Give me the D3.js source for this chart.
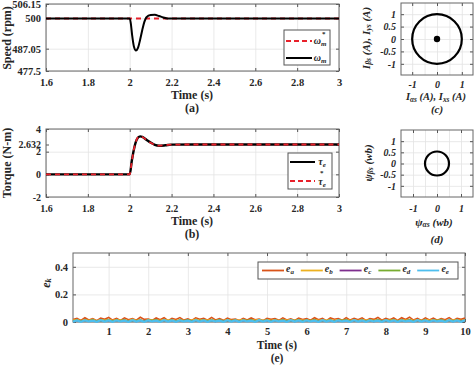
<!DOCTYPE html>
<html>
<head>
<meta charset="utf-8">
<script src="https://cdn.jsdelivr.net/npm/d3@7"></script>
<style>
  body { margin: 0; background: #fff; }
  svg, svg text { font-family: "Liberation Serif", "Times New Roman", serif; }
  .tick text { font-weight: bold; fill: #262626; }
  .grid line { stroke: #e3e3e3; stroke-width: 0.8; }
  .grid path { display: none; }
  .ax path { display: none; }
  .ax line { stroke: #555; }
</style>
</head>
<body>
<svg id="chart" width="474" height="366"></svg>
<script>
// (a) speed response
const speedT   = [1.6, 2.0, 2.005, 2.012, 2.02, 2.03, 2.04, 2.05, 2.06, 2.07, 2.08, 2.1, 2.12, 2.14, 2.16, 2.18, 2.2, 3.0];
const speedW   = [500, 500, 498, 492.5, 488, 486.3, 487.5, 491, 495, 498.5, 500.5, 501.4, 501.5, 501, 500.4, 500, 499.9, 500];
const speedRef = [500, 500];
const speedRefT = [1.6, 3.0];
const speedTicks = [477.5, 487.05, 500, 506.15];

// (b) torque response
const torqT = [1.6, 2.0, 2.01, 2.02, 2.03, 2.04, 2.05, 2.06, 2.08, 2.1, 2.12, 2.14, 2.17, 2.2, 2.3, 3.0];
const torqE = [0, 0, 1.2, 2.2, 2.9, 3.25, 3.35, 3.3, 3.05, 2.8, 2.6, 2.52, 2.56, 2.62, 2.632, 2.632];
const torqRef = [0, 0, 1.15, 2.2, 2.92, 3.27, 3.35, 3.29, 3.04, 2.79, 2.6, 2.53, 2.57, 2.62, 2.632, 2.632];
const torqTicks = [-2, 0, 2, 2.632, 4];
const timeTicks = [1.6, 1.8, 2, 2.2, 2.4, 2.6, 2.8, 3];

// (c) current trajectories (radius, centre dot)
const currRadius = 1.0;
const currDot = [0, 0];
// (d) flux trajectory
const fluxRadius = 0.5;
const planeTicks = [-1, -0.5, 0, 0.5, 1];

// (e) estimation errors, sampled every 0.1 s from 0.1 s to 10 s
const errA = [0.018,0.026,0.012,0.031,0.015,0.024,0.010,0.028,0.020,0.033,
  0.014,0.027,0.011,0.030,0.017,0.025,0.013,0.034,0.019,0.022,
  0.012,0.029,0.016,0.031,0.010,0.026,0.018,0.032,0.014,0.023,
  0.011,0.030,0.020,0.027,0.013,0.033,0.015,0.024,0.012,0.028,
  0.017,0.022,0.011,0.026,0.014,0.029,0.016,0.021,0.010,0.027,
  0.019,0.025,0.012,0.030,0.015,0.023,0.011,0.028,0.018,0.024,
  0.013,0.031,0.016,0.026,0.010,0.029,0.020,0.025,0.012,0.032,
  0.014,0.027,0.017,0.030,0.011,0.024,0.019,0.033,0.013,0.026,
  0.016,0.029,0.012,0.031,0.018,0.035,0.014,0.027,0.011,0.030,
  0.015,0.028,0.013,0.025,0.017,0.032,0.012,0.026,0.019,0.029];
const errB = [0.012,0.018,0.009,0.016,0.011,0.019,0.008,0.015,0.013,0.017,
  0.010,0.018,0.012,0.014,0.009,0.019,0.011,0.016,0.008,0.017,
  0.013,0.015,0.010,0.018,0.012,0.016,0.009,0.017,0.011,0.014,
  0.013,0.019,0.010,0.015,0.012,0.018,0.009,0.016,0.011,0.017,
  0.010,0.015,0.013,0.018,0.009,0.016,0.012,0.017,0.010,0.018,
  0.011,0.016,0.009,0.018,0.012,0.015,0.010,0.017,0.013,0.016,
  0.009,0.018,0.011,0.015,0.012,0.017,0.010,0.016,0.013,0.018,
  0.011,0.015,0.009,0.017,0.012,0.016,0.010,0.018,0.011,0.015,
  0.013,0.017,0.009,0.016,0.012,0.018,0.010,0.015,0.011,0.017,
  0.012,0.016,0.010,0.018,0.009,0.015,0.013,0.017,0.011,0.016];
const errC = [0.006,0.011,0.005,0.010,0.007,0.012,0.004,0.009,0.008,0.011,
  0.005,0.010,0.007,0.012,0.006,0.009,0.004,0.011,0.008,0.010,
  0.006,0.012,0.005,0.009,0.007,0.011,0.004,0.010,0.008,0.012,
  0.005,0.009,0.007,0.011,0.006,0.010,0.004,0.012,0.008,0.009,
  0.006,0.011,0.005,0.010,0.007,0.012,0.004,0.009,0.008,0.011,
  0.005,0.010,0.006,0.012,0.007,0.009,0.004,0.011,0.008,0.010,
  0.006,0.012,0.005,0.009,0.007,0.011,0.004,0.010,0.008,0.012,
  0.005,0.009,0.007,0.011,0.006,0.010,0.004,0.012,0.008,0.009,
  0.006,0.011,0.005,0.010,0.007,0.012,0.004,0.009,0.008,0.011,
  0.005,0.010,0.006,0.012,0.007,0.009,0.004,0.011,0.008,0.010];
const errD = [0.008,0.013,0.006,0.012,0.009,0.014,0.005,0.011,0.010,0.013,
  0.007,0.012,0.009,0.014,0.006,0.011,0.008,0.013,0.005,0.012,
  0.010,0.014,0.007,0.011,0.009,0.013,0.006,0.012,0.008,0.014,
  0.005,0.011,0.010,0.013,0.007,0.012,0.009,0.014,0.006,0.011,
  0.008,0.013,0.005,0.012,0.010,0.014,0.007,0.011,0.009,0.013,
  0.006,0.012,0.008,0.014,0.005,0.011,0.010,0.013,0.007,0.012,
  0.009,0.014,0.006,0.011,0.008,0.013,0.005,0.012,0.010,0.014,
  0.007,0.011,0.009,0.013,0.006,0.012,0.008,0.014,0.005,0.011,
  0.010,0.013,0.007,0.012,0.009,0.014,0.006,0.011,0.008,0.013,
  0.005,0.012,0.010,0.014,0.007,0.011,0.009,0.013,0.006,0.012];
const errE = [0.003,0.011,0.001,0.012,0.004,0.010,0.002,0.013,0.003,0.011,
  0.001,0.012,0.004,0.010,0.002,0.013,0.003,0.011,0.001,0.012,
  0.004,0.010,0.002,0.013,0.003,0.011,0.001,0.012,0.004,0.010,
  0.002,0.013,0.003,0.011,0.001,0.012,0.004,0.010,0.002,0.013,
  0.003,0.011,0.001,0.012,0.004,0.010,0.002,0.013,0.003,0.011,
  0.001,0.012,0.004,0.010,0.002,0.013,0.003,0.011,0.001,0.012,
  0.004,0.010,0.002,0.013,0.003,0.011,0.001,0.012,0.004,0.010,
  0.002,0.013,0.003,0.011,0.001,0.012,0.004,0.010,0.002,0.013,
  0.003,0.011,0.001,0.012,0.004,0.010,0.002,0.013,0.003,0.011,
  0.001,0.012,0.004,0.010,0.002,0.013,0.003,0.011,0.001,0.012];
const errNames  = ["a", "b", "c", "d", "e"];
const errColors = ["#d95319", "#edb120", "#7e2f8e", "#77ac30", "#4dbeee"];
const errTicksX = [1, 2, 3, 4, 5, 6, 7, 8, 9, 10];
const errTicksY = [0, 0.2, 0.4];

const SERIF = "'Liberation Serif', 'Times New Roman', serif";
const svg = d3.select("#chart");
svg.append("rect").attr("width", 474).attr("height", 366).attr("fill", "#fff");

// draws the box, grid and ticks of one panel, returns its group
function frame(x, y, xt, yt, opt) {
  const g = svg.append("g");
  const [x0, x1] = x.range(), [y1, y0] = y.range();
  const w = x1 - x0, h = y1 - y0;
  const gx = opt.gridX || xt, gy = opt.gridY || yt;
  g.append("g").attr("class", "grid").attr("transform", `translate(0,${y1})`)
    .call(d3.axisBottom(x).tickValues(gx).tickSize(-h).tickFormat(""));
  g.append("g").attr("class", "grid").attr("transform", `translate(${x0},0)`)
    .call(d3.axisLeft(y).tickValues(gy).tickSize(-w).tickFormat(""));
  const fs = opt.fs || 10.5;
  const bx = g.append("g").attr("class", "ax").attr("transform", `translate(0,${y1})`)
    .call(d3.axisBottom(x).tickValues(xt).tickSize(-3).tickPadding(opt.padX || 8).tickFormat(opt.fmtX || d3.format("")));
  const ly = g.append("g").attr("class", "ax").attr("transform", `translate(${x0},0)`)
    .call(d3.axisLeft(y).tickValues(yt).tickSize(-3).tickPadding(opt.padY || 6).tickFormat(opt.fmtY || d3.format("")));
  [bx, ly].forEach(a => a.attr("font-family", SERIF).attr("font-size", fs)
    .selectAll("text").attr("font-family", SERIF).style("font-style", opt.italic ? "italic" : null));
  g.append("g").attr("class", "ax").attr("transform", `translate(0,${y0})`)
    .call(d3.axisTop(x).tickValues(xt).tickSize(-3).tickFormat(""));
  g.append("g").attr("class", "ax").attr("transform", `translate(${x1},0)`)
    .call(d3.axisRight(y).tickValues(yt).tickSize(-3).tickFormat(""));
  g.append("rect").attr("x", x0).attr("y", y0).attr("width", w).attr("height", h)
    .attr("fill", "none").attr("stroke", "#666").attr("stroke-width", 1);
  return g;
}

function label(txt, x, y, size, rot) {
  const t = svg.append("text").attr("text-anchor", "middle").attr("dominant-baseline", "middle")
    .attr("font-family", SERIF).attr("font-weight", "bold").attr("font-size", size).attr("fill", "#262626")
    .attr("transform", `translate(${x},${y})` + (rot ? " rotate(-90)" : ""));
  txt.forEach(p => {
    const s = t.append("tspan").text(p.t);
    if (p.sub) s.attr("baseline-shift", "-30%").attr("font-size", size * 0.7);
    if (p.i) s.attr("font-style", "italic");
  });
  return t;
}

function star(x, y) {
  svg.append("text").attr("x", x).attr("y", y).attr("font-size", 7).attr("font-family", SERIF)
    .attr("font-weight", "bold").attr("fill", "#262626").text("*");
}

// ---------- (a) speed ----------
const xa = d3.scaleLinear().domain([1.6, 3]).range([46, 339]);
const ya = d3.scaleLinear().domain([477.5, 506.15]).range([71, 4]);
const ga = frame(xa, ya, timeTicks, speedTicks, { fmtY: d => d, padY: 5 });
const lineA = d3.line().x(d => xa(d[0])).y(d => ya(d[1])).curve(d3.curveMonotoneX);
ga.append("path").attr("d", lineA(d3.zip(speedRefT, speedRef)))
  .attr("fill", "none").attr("stroke", "#e8202a").attr("stroke-width", 2).attr("stroke-dasharray", "5,4");
ga.append("path").attr("d", lineA(d3.zip(speedT, speedW)))
  .attr("fill", "none").attr("stroke", "#000").attr("stroke-width", 2);
// legend (a)
ga.append("rect").attr("x", 284).attr("y", 30).attr("width", 46).attr("height", 35)
  .attr("fill", "#fff").attr("stroke", "#555");
ga.append("line").attr("x1", 286).attr("x2", 312).attr("y1", 41).attr("y2", 41)
  .attr("stroke", "#e8202a").attr("stroke-width", 2).attr("stroke-dasharray", "5,3");
ga.append("line").attr("x1", 286).attr("x2", 312).attr("y1", 58).attr("y2", 58)
  .attr("stroke", "#000").attr("stroke-width", 2);
label([{ t: "ω", i: 1 }, { t: "m", sub: 1, i: 1 }], 320, 42, 10);
star(322, 36);
label([{ t: "ω", i: 1 }, { t: "m", sub: 1, i: 1 }], 320, 59, 10);
label([{ t: "Speed (rpm)" }], 8, 38, 12, true);
label([{ t: "Time (s)" }], 192, 96, 12);
label([{ t: "(a)" }], 192, 109, 12);

// ---------- (b) torque ----------
const xb = d3.scaleLinear().domain([1.6, 3]).range([46, 339]);
const yb = d3.scaleLinear().domain([-2, 4]).range([197, 129]);
const gb = frame(xb, yb, timeTicks, torqTicks, { fmtY: d => d, gridY: [-2, 0, 2, 4], padY: 5, fs: 10 });
const lineB = d3.line().x(d => xb(d[0])).y(d => yb(d[1])).curve(d3.curveMonotoneX);
gb.append("path").attr("d", lineB(d3.zip(torqT, torqE)))
  .attr("fill", "none").attr("stroke", "#000").attr("stroke-width", 2.4);
gb.append("path").attr("d", lineB(d3.zip(torqT, torqRef)))
  .attr("fill", "none").attr("stroke", "#e8202a").attr("stroke-width", 1.8).attr("stroke-dasharray", "5,4");
gb.append("rect").attr("x", 288).attr("y", 153).attr("width", 44).attr("height", 36)
  .attr("fill", "#fff").attr("stroke", "#555");
gb.append("line").attr("x1", 290).attr("x2", 315).attr("y1", 162).attr("y2", 162)
  .attr("stroke", "#000").attr("stroke-width", 2);
gb.append("line").attr("x1", 290).attr("x2", 315).attr("y1", 181).attr("y2", 181)
  .attr("stroke", "#e8202a").attr("stroke-width", 2).attr("stroke-dasharray", "5,3");
label([{ t: "τ", i: 1 }, { t: "e", sub: 1, i: 1 }], 322, 163, 10);
label([{ t: "τ", i: 1 }, { t: "e", sub: 1, i: 1 }], 322, 183, 10);
star(320, 175);
label([{ t: "Torque (N-m)" }], 8, 163, 12, true);
label([{ t: "Time (s)" }], 192, 222, 12);
label([{ t: "(b)" }], 192, 235, 12);

// ---------- (c) currents ----------
const xc = d3.scaleLinear().domain([-1.45, 1.45]).range([401, 473]);
const yc = d3.scaleLinear().domain([-1.45, 1.45]).range([75, 3]);
const planeFmt = d => d === 0 ? "0" : d;
const gc = frame(xc, yc, [-1, 0, 1], planeTicks,
  { italic: true, fs: 10, fmtX: planeFmt, fmtY: planeFmt, gridX: planeTicks, padX: 6, padY: 5 });
gc.append("circle").attr("cx", xc(0)).attr("cy", yc(0)).attr("r", xc(currRadius) - xc(0))
  .attr("fill", "none").attr("stroke", "#000").attr("stroke-width", 2.2);
gc.append("circle").attr("cx", xc(currDot[0])).attr("cy", yc(currDot[1])).attr("r", 3.2).attr("fill", "#000");
label([{ t: "I", i: 1 }, { t: "βs", sub: 1, i: 1 }, { t: " (A), ", i: 1 }, { t: "I", i: 1 }, { t: "ys", sub: 1, i: 1 }, { t: " (A)", i: 1 }], 367, 38, 11, true);
label([{ t: "I", i: 1 }, { t: "αs", sub: 1, i: 1 }, { t: " (A), ", i: 1 }, { t: "I", i: 1 }, { t: "xs", sub: 1, i: 1 }, { t: " (A)", i: 1 }], 436, 98, 10.5);
label([{ t: "(c)", i: 1 }], 437, 110, 11);

// ---------- (d) flux ----------
const xd = d3.scaleLinear().domain([-1.5, 1.5]).range([401, 473]);
const yd = d3.scaleLinear().domain([-1.5, 1.5]).range([197, 130]);
const gd = frame(xd, yd, [-1, 0, 1], planeTicks,
  { italic: true, fs: 10, fmtX: planeFmt, fmtY: planeFmt, gridX: planeTicks, padX: 8, padY: 5 });
gd.append("circle").attr("cx", xd(0)).attr("cy", yd(0)).attr("r", xd(fluxRadius) - xd(0))
  .attr("fill", "none").attr("stroke", "#000").attr("stroke-width", 2.2);
label([{ t: "ψ", i: 1 }, { t: "βs", sub: 1, i: 1 }, { t: " (wb)", i: 1 }], 369, 163, 11, true);
label([{ t: "ψ", i: 1 }, { t: "αs", sub: 1, i: 1 }, { t: " (wb)", i: 1 }], 434, 223, 11);
label([{ t: "(d)", i: 1 }], 437, 240, 11);

// ---------- (e) errors ----------
const errT = d3.range(errA.length).map(i => +(0.1 + i * 0.1).toFixed(1));
const xe = d3.scaleLinear().domain([0.1, 10]).range([73, 465]);
const ye = d3.scaleLinear().domain([0, 0.5]).range([322, 253]);
const ge = frame(xe, ye, errTicksX, errTicksY, { fmtY: d => d, padX: 6, padY: 5 });
const lineE = d3.line().x((d, i) => xe(errT[i])).y(d => ye(d));
[errA, errB, errC, errD, errE].forEach((s, k) => {
  ge.append("path").attr("d", lineE(s)).attr("fill", "none")
    .attr("stroke", errColors[k]).attr("stroke-width", k === 4 ? 2.2 : 1.6);
});
ge.append("rect").attr("x", 258).attr("y", 262).attr("width", 200).attr("height", 17)
  .attr("fill", "#fff").attr("stroke", "#555");
errNames.forEach((n, k) => {
  const lx = 262 + k * 38.8;
  ge.append("line").attr("x1", lx).attr("x2", lx + 22).attr("y1", 270.5).attr("y2", 270.5)
    .attr("stroke", errColors[k]).attr("stroke-width", 1.8);
  label([{ t: "e", i: 1 }, { t: n, sub: 1, i: 1 }], lx + 28, 270, 10);
});
label([{ t: "e", i: 1 }, { t: "k", sub: 1, i: 1 }], 47, 283, 12, true);
label([{ t: "Time (s)" }], 277, 346, 11.5);
label([{ t: "(e)" }], 277, 359, 11.5);
</script>
</body>
</html>
